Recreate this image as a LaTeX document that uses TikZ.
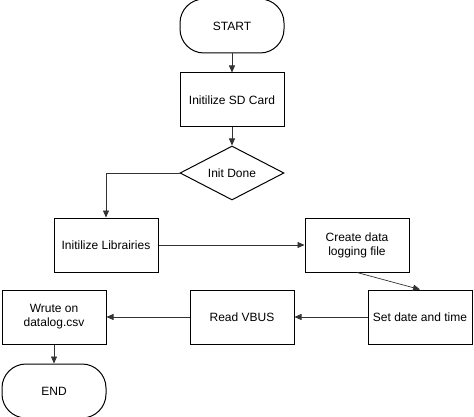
\documentclass[tikz,border=0pt]{standalone}
\usepackage{fontspec}
\setmainfont{Liberation Sans}
\usetikzlibrary{shapes.geometric,arrows.meta}
\begin{document}
\begin{tikzpicture}[x=1pt,y=-1pt,
  font=\fontsize{12}{14}\selectfont,
  proc/.style={draw, line width=1pt, minimum width=104pt, minimum height=54pt, align=center, inner sep=1pt},
  term/.style={proc, rounded corners=24pt},
  decide/.style={draw, line width=1pt, diamond, aspect=1.9, minimum width=104pt, minimum height=54pt, inner sep=0pt},
  link/.style={-{Triangle[length=7pt,width=6pt]}, line width=0.7pt, draw=black!80}]
\useasboundingbox (0,0) rectangle (474,417);
\node[term] (start) at (232,26) {START};
\node[proc] (initsd) at (232,100) {Initilize SD Card};
\node[decide] (initdone) at (232,173) {Init Done};
\node[proc] (libs) at (106,245) {Initilize Librairies};
\node[proc] (createlog) at (357,245) {Create data\\logging file};
\node[proc] (setdate) at (420,317) {Set date and time};
\node[proc] (readvbus) at (242,317) {Read VBUS};
\node[proc] (writecsv) at (54,317) {Wrute on\\datalog.csv};
\node[term] (finish) at (54,391) {END};
\draw[link] (start) -- (initsd);
\draw[link] (initsd) -- (initdone);
\draw[link] (initdone.west) -| (libs.north);
\draw[link] (libs) -- (createlog);
\draw[link] (createlog.south) -- (setdate.north);
\draw[link] (setdate) -- (readvbus);
\draw[link] (readvbus) -- (writecsv);
\draw[link] (writecsv) -- (finish);
\end{tikzpicture}
\end{document}
